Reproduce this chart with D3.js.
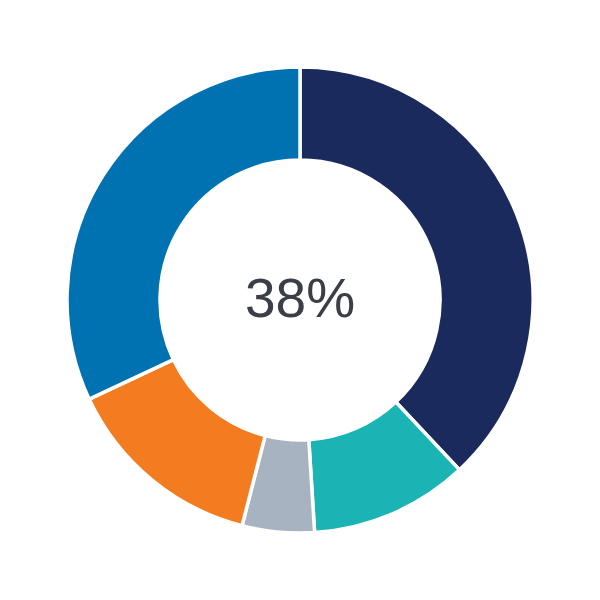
<!DOCTYPE html>
<html lang="en">
    <head>
        <meta charset="utf-8">
        <title>Donut</title>
        <script src="https://d3js.org/d3.v7.min.js"></script>
        <style type="text/css">
        body {
            margin: 0;
            background-color: white;
        }
        .label {
            font-family: "Liberation Sans", Arial, sans-serif;
            font-size: 55px;
            fill: #3a3e47;
        }
        </style>
    </head>
    <body>
        <script>
        var width = 600,
            height = 600;

        // slice shares, clockwise from 12 o'clock
        var categories = ["A", "B", "C", "D", "E"];
        var values = [38, 11, 5, 14, 32];
        var colors = ["#1b2a5c", "#1ab4b5", "#a8b3c1", "#f47c20", "#0072b1"];
        var centerLabel = "38%";

        var svg = d3.select("body").append("svg")
            .attr("width", width)
            .attr("height", height);

        var g = svg.append("g")
            .attr("transform", "translate(300,300)");

        var pie = d3.pie()
            .sort(null)
            .value(function(d) { return d; });

        var arc = d3.arc()
            .innerRadius(140)
            .outerRadius(233);

        var color = d3.scaleOrdinal()
            .domain(categories)
            .range(colors);

        g.selectAll("path")
            .data(pie(values))
            .enter()
            .append("path")
            .attr("d", arc)
            .attr("fill", function(d, i) { return color(categories[i]); })
            .attr("stroke", "white")
            .attr("stroke-width", 3.5);

        g.append("text")
            .attr("class", "label")
            .attr("text-anchor", "middle")
            .attr("y", 17)
            .text(centerLabel);
        </script>
    </body>
</html>
